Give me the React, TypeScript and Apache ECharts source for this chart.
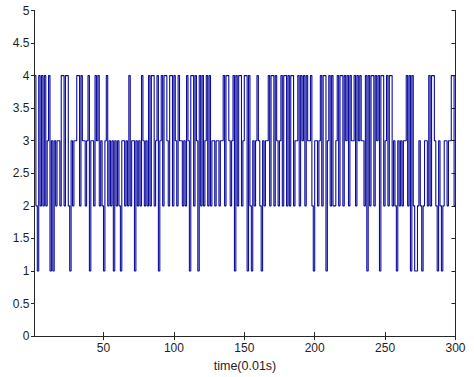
import React, { useEffect, useRef } from "react";
import * as echarts from "echarts";

// values at t = 1..300
const values: number[] = [
  4, 2, 1, 4, 2, 4, 2, 4, 2, 3,
  4, 1, 3, 1, 3, 2, 3, 3, 2, 4,
  4, 2, 4, 4, 2, 1, 3, 2, 3, 3,
  4, 4, 2, 4, 3, 3, 2, 3, 4, 1,
  3, 3, 2, 4, 3, 4, 2, 3, 2, 1,
  3, 4, 2, 3, 2, 3, 1, 3, 2, 3,
  2, 1, 3, 3, 2, 3, 2, 4, 2, 3,
  3, 1, 3, 2, 3, 2, 4, 3, 2, 3,
  2, 4, 2, 4, 4, 2, 3, 4, 1, 3,
  4, 2, 4, 4, 3, 2, 4, 4, 2, 4,
  3, 2, 4, 3, 3, 2, 3, 2, 4, 3,
  1, 4, 4, 2, 4, 3, 1, 4, 2, 4,
  2, 3, 4, 2, 4, 2, 3, 3, 2, 3,
  3, 2, 3, 3, 4, 2, 4, 4, 3, 2,
  3, 4, 1, 4, 2, 4, 4, 2, 3, 4,
  4, 1, 4, 2, 1, 3, 2, 3, 4, 3,
  2, 1, 3, 2, 3, 3, 4, 2, 4, 4,
  2, 4, 3, 2, 3, 4, 2, 4, 4, 2,
  4, 2, 4, 4, 2, 3, 3, 4, 2, 4,
  3, 4, 2, 4, 3, 3, 4, 2, 1, 3,
  3, 2, 3, 4, 2, 4, 4, 1, 3, 4,
  2, 4, 2, 2, 3, 4, 2, 4, 4, 2,
  4, 3, 4, 2, 4, 3, 3, 4, 2, 4,
  3, 4, 3, 3, 2, 4, 1, 4, 2, 4,
  4, 2, 4, 3, 4, 1, 4, 4, 2, 3,
  4, 2, 4, 4, 2, 3, 2, 1, 3, 2,
  3, 2, 3, 3, 4, 2, 4, 1, 4, 2,
  1, 1, 2, 3, 2, 1, 2, 3, 3, 2,
  4, 2, 4, 4, 3, 2, 1, 3, 2, 1,
  2, 3, 3, 2, 3, 3, 4, 4, 2, 2,
];

const xTicks: number[] = [50, 100, 150, 200, 250, 300];
const yTicks: number[] = [0, 0.5, 1, 1.5, 2, 2.5, 3, 3.5, 4, 4.5, 5];
const xName = "time(0.01s)";

export default function App() {
  const ref = useRef<HTMLDivElement>(null);

  useEffect(() => {
    if (!ref.current) return;
    const chart = echarts.init(ref.current, undefined, { renderer: "svg" });
    const data = values.map((v, i) => [i + 1, v]);
    const axisColor = "#262626";
    const labelStyle = {
      color: "#1e1e1e",
      fontFamily: "Liberation Sans, Arial, sans-serif",
      fontSize: 12,
    };
    chart.setOption({
      animation: false,
      backgroundColor: "#ffffff",
      grid: { left: 34.5, right: 18.5, top: 10.5, bottom: 39.5, containLabel: false },
      xAxis: [
        {
          type: "value",
          min: 1,
          max: 300,
          position: "bottom",
          name: xName,
          nameLocation: "middle",
          nameGap: 20,
          nameTextStyle: { ...labelStyle, fontSize: 12.5 },
          axisLine: { show: true, lineStyle: { color: axisColor, width: 1 } },
          axisTick: { show: true, inside: true, length: 4, customValues: xTicks, lineStyle: { color: axisColor } },
          axisLabel: { show: true, customValues: xTicks, margin: 6, ...labelStyle },
          splitLine: { show: false },
        },
        {
          type: "value",
          min: 1,
          max: 300,
          position: "top",
          axisLine: { show: true, lineStyle: { color: axisColor, width: 1 } },
          axisTick: { show: true, inside: true, length: 4, customValues: xTicks, lineStyle: { color: axisColor } },
          axisLabel: { show: false },
          splitLine: { show: false },
        },
      ],
      yAxis: [
        {
          type: "value",
          min: 0,
          max: 5,
          interval: 0.5,
          position: "left",
          axisLine: { show: true, lineStyle: { color: axisColor, width: 1 } },
          axisTick: { show: true, inside: false, length: 3.5, lineStyle: { color: axisColor } },
          axisLabel: { show: true, margin: 5, ...labelStyle, formatter: (v: number) => String(v) },
          splitLine: { show: false },
        },
        {
          type: "value",
          min: 0,
          max: 5,
          interval: 0.5,
          position: "right",
          axisLine: { show: true, lineStyle: { color: axisColor, width: 1 } },
          axisTick: { show: true, inside: true, length: 4, lineStyle: { color: axisColor } },
          axisLabel: { show: false },
          splitLine: { show: false },
        },
      ],
      series: [
        {
          type: "line",
          step: "end",
          data,
          xAxisIndex: 0,
          yAxisIndex: 0,
          showSymbol: false,
          symbol: "none",
          lineStyle: { color: "#0c0c9e", width: 1.1 },
          silent: true,
        },
      ],
    });
    return () => chart.dispose();
  }, []);

  return (
    <div
      ref={ref}
      style={{ position: "absolute", left: 0, top: 0, width: 474, height: 377, background: "#fff" }}
    />
  );
}
